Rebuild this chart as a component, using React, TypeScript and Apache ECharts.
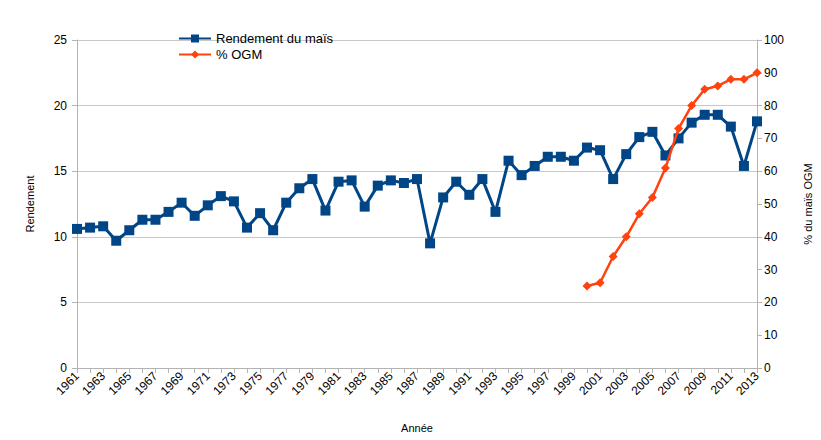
import React, { useEffect, useRef } from "react";
import * as echarts from "echarts";

const years: string[] = [];
for (let y = 1961; y <= 2013; y++) years.push(String(y));

const rendement = [
  10.6, 10.7, 10.8, 9.7, 10.5, 11.3, 11.3, 11.9, 12.6, 11.6,
  12.4, 13.1, 12.7, 10.7, 11.8, 10.5, 12.6, 13.7, 14.4, 12.0,
  14.2, 14.3, 12.3, 13.9, 14.3, 14.1, 14.4, 9.5, 13.0, 14.2,
  13.2, 14.4, 11.9, 15.8, 14.7, 15.4, 16.1, 16.1, 15.8, 16.8,
  16.6, 14.4, 16.3, 17.6, 18.0, 16.2, 17.5, 18.7, 19.3, 19.3,
  18.4, 15.4, 18.8,
];

const ogmYears = ["2000", "2001", "2002", "2003", "2004", "2005", "2006", "2007", "2008", "2009", "2010", "2011", "2012", "2013"];
const ogmValues = [25, 26, 34, 40, 47, 52, 61, 73, 80, 85, 86, 88, 88, 90];

export default function App() {
  const ref = useRef<HTMLDivElement>(null);
  useEffect(() => {
    if (!ref.current) return;
    const chart = echarts.init(ref.current, undefined, { renderer: "svg" });
    const ogmSeries = years.map((y) => {
      const i = ogmYears.indexOf(y);
      return i >= 0 ? ogmValues[i] : null;
    });
    const font = "Liberation Sans";
    chart.setOption({
      animation: false,
      textStyle: { fontFamily: font },
      grid: { left: 77, right: 64, top: 40, bottom: 72 },
      legend: {
        orient: "vertical",
        left: 173,
        top: 27,
        itemGap: 3,
        itemWidth: 32,
        itemHeight: 10,
        textStyle: { fontSize: 13, color: "#000", fontFamily: font },
        data: ["Rendement du maïs", "% OGM"],
      },
      xAxis: {
        type: "category",
        data: years,
        boundaryGap: false,
        name: "Année",
        nameLocation: "middle",
        nameGap: 54,
        nameTextStyle: { fontSize: 11, color: "#000" },
        axisLine: { lineStyle: { color: "#b3b3b3" } },
        axisTick: { show: true, interval: 0, length: 5, lineStyle: { color: "#b3b3b3" } },
        axisLabel: { interval: 1, rotate: 45, fontSize: 12, color: "#000", margin: 6 },
        splitLine: { show: false },
      },
      yAxis: [
        {
          type: "value",
          min: 0,
          max: 25,
          interval: 5,
          name: "Rendement",
          nameLocation: "middle",
          nameGap: 42,
          nameTextStyle: { fontSize: 11, color: "#000" },
          axisLine: { show: true, lineStyle: { color: "#b3b3b3" } },
          axisTick: { show: true, length: 5, lineStyle: { color: "#b3b3b3" } },
          axisLabel: { fontSize: 12, color: "#000", margin: 10 },
          splitLine: { show: true, lineStyle: { color: "#c8c8c8", width: 1 } },
        },
        {
          type: "value",
          min: 0,
          max: 100,
          interval: 10,
          position: "right",
          name: "% du maïs OGM",
          nameLocation: "middle",
          nameGap: 45,
          nameRotate: 90,
          nameTextStyle: { fontSize: 11, color: "#000" },
          axisLine: { show: true, lineStyle: { color: "#b3b3b3" } },
          axisTick: { show: true, length: 5, lineStyle: { color: "#b3b3b3" } },
          axisLabel: { fontSize: 12, color: "#000", margin: 7 },
          splitLine: { show: false },
        },
      ],
      series: [
        {
          name: "Rendement du maïs",
          type: "line",
          yAxisIndex: 0,
          data: rendement,
          symbol: "rect",
          symbolSize: 10,
          showAllSymbol: true,
          lineStyle: { color: "#004586", width: 3 },
          itemStyle: { color: "#004586" },
          z: 2,
        },
        {
          name: "% OGM",
          type: "line",
          yAxisIndex: 1,
          data: ogmSeries,
          symbol: "diamond",
          symbolSize: 9,
          showAllSymbol: true,
          lineStyle: { color: "#ff420e", width: 2.5 },
          itemStyle: { color: "#ff420e" },
          z: 3,
        },
      ],
    });
    return () => chart.dispose();
  }, []);
  return <div ref={ref} style={{ width: 821, height: 440, position: "absolute", left: 0, top: 0 }} />;
}
